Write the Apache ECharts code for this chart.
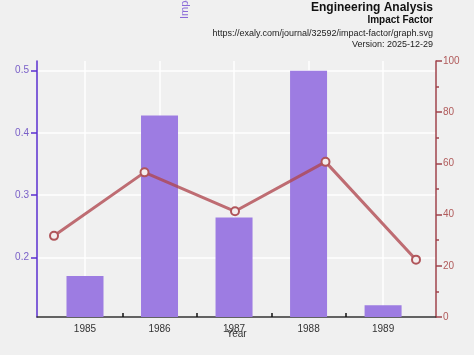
<!DOCTYPE html>
<html><head><meta charset="utf-8">
<script src="https://cdn.jsdelivr.net/npm/echarts@6/dist/echarts.min.js"></script>
<style>html,body{margin:0;padding:0;background:#f0f0f0;}#c{width:474px;height:355px;}</style>
</head><body><div id="c"></div>
<script>
var years = [1985, 1986, 1987, 1988, 1989];
var impactFactor = [0.170, 0.428, 0.264, 0.500, 0.123];
var percentile = [31.7, 56.5, 41.3, 60.6, 22.4];
var leftTicks = [0.2, 0.3, 0.4, 0.5];
var rightTicks = [0, 20, 40, 60, 80, 100];
var rightMinor = [10, 30, 50, 70, 90];
var midTicks = [1985.5, 1986.5, 1987.5, 1988.5];

var FONT = 'Liberation Sans, Arial, sans-serif';
var chart = echarts.init(document.getElementById('c'), null, {renderer: 'canvas'});
var xMin = 1984.356, xMax = 1989.71;
var lMin = 1984.812, lMax = 1989.221;
chart.setOption({
  backgroundColor: '#f0f0f0',
  animation: false,
  textStyle: {fontFamily: FONT},
  grid: {left: 37, right: 38, top: 61, bottom: 38, containLabel: false},
  xAxis: [
    {type: 'value', min: xMin, max: xMax,
     axisLine: {show: true, onZero: false, lineStyle: {color: '#333', width: 1.5}},
     axisTick: {show: true, inside: true, length: 4, customValues: years, lineStyle: {color: '#3a2070', width: 1.5}},
     axisLabel: {show: true, customValues: years, formatter: function(v){return String(Math.round(v));}, color: '#333', fontSize: 10, margin: 7},
     splitLine: {show: true, lineStyle: {color: '#ffffff', width: 1.5}},
     name: 'Year', nameLocation: 'middle', nameGap: 12, nameMoveOverlap: false,
     nameTextStyle: {color: '#333', fontSize: 10, verticalAlign: 'top'}
    },
    {type: 'value', min: xMin, max: xMax, position: 'bottom',
     axisLine: {show: false}, axisLabel: {show: false}, splitLine: {show: false},
     axisTick: {show: true, inside: true, length: 4, customValues: midTicks, lineStyle: {color: '#111', width: 1.5}}
    },
    {type: 'value', min: lMin, max: lMax, show: false}
  ],
  yAxis: [
    {type: 'value', min: 0.104, max: 0.5156, position: 'left',
     axisLine: {show: true, onZero: false, lineStyle: {color: '#5b2fd0', width: 1.5}},
     axisTick: {show: true, length: 6, customValues: leftTicks, lineStyle: {color: '#5b2fd0', width: 1.5}},
     axisLabel: {show: true, customValues: leftTicks, formatter: function(v){return v.toFixed(1);}, color: '#7a60c8', fontSize: 10, margin: 8},
     splitLine: {show: true, lineStyle: {color: '#ffffff', width: 1.5}}
    },
    {type: 'value', min: 0, max: 100, position: 'right',
     axisLine: {show: true, onZero: false, lineStyle: {color: '#a0444c', width: 1.5}},
     axisTick: {show: true, length: 6, customValues: rightTicks, lineStyle: {color: '#a0444c', width: 1.5}},
     axisLabel: {show: true, customValues: rightTicks, color: '#b05a5a', fontSize: 10, margin: 7},
     splitLine: {show: false}
    },
    {type: 'value', min: 0, max: 100, position: 'right', show: true,
     axisLine: {show: false}, axisLabel: {show: false}, splitLine: {show: false},
     axisTick: {show: true, length: 3, customValues: rightMinor, lineStyle: {color: '#a0444c', width: 1.5}}
    }
  ],
  series: [
    {type: 'bar', xAxisIndex: 0, yAxisIndex: 0, barWidth: 37,
     data: years.map(function(y, i){return [y, impactFactor[i]];}),
     itemStyle: {color: '#9d7ce2'}},
    {type: 'line', xAxisIndex: 2, yAxisIndex: 1,
     data: years.map(function(y, i){return [y, percentile[i]];}),
     symbol: 'circle', symbolSize: 8,
     lineStyle: {color: 'rgba(175,70,78,0.78)', width: 3},
     itemStyle: {color: '#f4eeee', borderColor: '#b0555a', borderWidth: 2}}
  ],
  graphic: [
    {type: 'text', right: 41, top: 2, style: {text: 'Engineering Analysis', font: 'bold 12px ' + FONT, fill: '#111', textAlign: 'right'}},
    {type: 'text', right: 41, top: 15, style: {text: 'Impact Factor', font: 'bold 10px ' + FONT, fill: '#111', textAlign: 'right'}},
    {type: 'text', right: 41, top: 29, style: {text: 'https://exaly.com/journal/32592/impact-factor/graph.svg', font: '9px ' + FONT, fill: '#222', textAlign: 'right'}},
    {type: 'text', right: 41, top: 40, style: {text: 'Version: 2025-12-29', font: '9px ' + FONT, fill: '#222', textAlign: 'right'}},
    {type: 'text', x: 179, y: 19, rotation: Math.PI / 2, style: {text: 'Impact Factor', font: '11px ' + FONT, fill: '#8a6ad8', textAlign: 'left', textVerticalAlign: 'top'}}
  ]
});
</script></body></html>
